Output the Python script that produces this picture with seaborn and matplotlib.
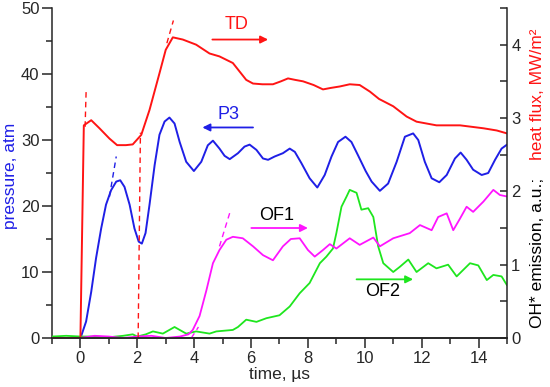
import matplotlib
matplotlib.use('Agg')
import matplotlib.pyplot as plt
import seaborn as sns
from matplotlib.ticker import MultipleLocator

# ----- data ----- #
# heat flux, TD (right axis, MW/m2)
td_time = [-1, -0.5, 0, 0.12, 0.38, 0.67, 1.02, 1.29, 1.6, 1.84, 2.14, 2.43, 2.78, 3.0,
           3.25, 3.6, 4.07, 4.54, 4.89, 5.36, 5.83, 6.07, 6.4, 6.77, 7.05, 7.3, 7.55,
           7.83, 8.2, 8.53, 8.8, 9.12, 9.47, 9.82, 10.18, 10.5, 11.0, 11.47, 11.82,
           12.52, 13.35, 14.17, 14.64, 15]
td_flux = [0, 0, 0, 2.9, 2.97, 2.86, 2.72, 2.63, 2.63, 2.64, 2.77, 3.11, 3.61, 3.93,
           4.10, 4.07, 4.0, 3.88, 3.84, 3.75, 3.52, 3.47, 3.46, 3.46, 3.5, 3.54, 3.52,
           3.50, 3.45, 3.39, 3.41, 3.43, 3.46, 3.45, 3.36, 3.26, 3.16, 3.02, 2.95,
           2.90, 2.90, 2.86, 2.83, 2.79]

# pressure, P3 (left axis, atm)
p3_time = [-1, 0, 0.02, 0.2, 0.38, 0.55, 0.73, 0.9, 1.08, 1.26, 1.4, 1.55, 1.73, 1.9,
           2.05, 2.16, 2.29, 2.43, 2.61, 2.78, 2.96, 3.13, 3.31, 3.49, 3.72, 3.99, 4.25,
           4.48, 4.66, 4.89, 5.07, 5.25, 5.54, 5.77, 5.95, 6.19, 6.42, 6.6, 6.83, 7.12,
           7.36, 7.54, 7.77, 8.06, 8.33, 8.59, 8.83, 9.06, 9.32, 9.53, 9.76, 10.03,
           10.24, 10.53, 10.82, 11.12, 11.41, 11.7, 11.88, 12.11, 12.35, 12.62, 12.88,
           13.17, 13.37, 13.58, 13.81, 14.11, 14.34, 14.58, 14.81, 15]
p3_pres = [0, 0, 0.2, 2.5, 7.0, 12.1, 16.6, 20.2, 22.4, 23.7, 23.9, 22.9, 20.2, 16.6,
           14.6, 14.3, 15.9, 20.2, 26.2, 30.8, 32.8, 33.4, 32.5, 29.7, 26.7, 25.3, 26.7,
           29.2, 29.9, 28.7, 27.6, 27.1, 28.0, 29.0, 29.3, 28.5, 27.2, 27.0, 27.5, 28.0,
           28.7, 28.2, 26.5, 24.2, 22.8, 24.7, 27.5, 29.7, 30.5, 29.7, 27.7, 25.3,
           23.7, 22.3, 23.4, 26.7, 30.5, 31.0, 30.0, 26.7, 24.2, 23.6, 24.7,
           27.2, 28.1, 27.0, 25.5, 24.7, 25.0, 27.0, 28.7, 29.3]

# OH* emission, OF1 (right axis, a.u.)
of1_time = [-1, -0.5, 0, 0.5, 1.0, 1.5, 2.0, 2.5, 3.0, 3.5, 3.8, 3.95, 4.19, 4.43, 4.66,
            4.89, 5.13, 5.36, 5.71, 6.07, 6.42, 6.77, 7.12, 7.4, 7.71, 8.0, 8.24, 8.53,
            8.77, 9.0, 9.47, 9.82, 10.3, 10.53, 11.0, 11.58, 11.94, 12.35, 12.58, 12.88,
            13.11, 13.35, 13.58, 13.81, 14.17, 14.52, 14.75, 15]
of1_oh = [-0.03, -0.03, 0.0, 0.03, 0.02, 0.0, 0.02, 0.03, 0.0, 0.02, 0.05, 0.11, 0.3,
          0.65, 1.02, 1.2, 1.34, 1.38, 1.36, 1.25, 1.13, 1.06, 1.25, 1.35, 1.36, 1.2,
          1.11, 1.2, 1.28, 1.22, 1.36, 1.27, 1.37, 1.25, 1.36, 1.43, 1.54, 1.47, 1.65,
          1.70, 1.47, 1.63, 1.79, 1.72, 1.86, 2.02, 1.95, 1.93]

# OH* emission, OF2 (right axis, a.u.)
of2_time = [-1, -0.5, 0, 0.5, 1.0, 1.5, 1.84, 2.0, 2.3, 2.55, 2.9, 3.31, 3.72, 4.07, 4.54,
            4.78, 5.36, 5.54, 5.83, 6.19, 6.54, 7.0, 7.36, 7.71, 8.06, 8.42, 8.65, 8.88,
            9.0, 9.18, 9.36, 9.47, 9.71, 9.88, 10.12, 10.3, 10.47, 10.65, 11.0, 11.23,
            11.53, 11.82, 12.23, 12.52, 12.93, 13.23, 13.7, 13.99, 14.29, 14.52, 14.81, 15]
of2_oh = [0.02, 0.03, 0.02, 0.02, 0.01, 0.03, 0.05, 0.02, 0.05, 0.09, 0.06, 0.15, 0.06,
          0.09, 0.06, 0.09, 0.11, 0.15, 0.25, 0.22, 0.27, 0.31, 0.43, 0.61, 0.75, 1.02,
          1.11, 1.22, 1.43, 1.79, 1.93, 2.02, 1.98, 1.75, 1.77, 1.65, 1.25, 1.02, 0.90,
          0.97, 1.07, 0.90, 1.02, 0.95, 1.0, 0.84, 1.02, 0.99, 0.79, 0.86, 0.84, 0.72]

# dashed fit lines
td_fit1_time, td_fit1_flux = [0.165, 0.2], [2.88, 3.36]
td_fit2_time, td_fit2_flux = [2.03, 2.11], [0, 2.8]
td_fit3_time, td_fit3_flux = [3.04, 3.27], [4.02, 4.33]
p3_fit_time, p3_fit_pres = [1.02, 1.26], [21.4, 27.5]
of1_fit1_time, of1_fit1_oh = [1.4, 3.9], [-0.02, -0.02]
of1_fit2_time, of1_fit2_oh = [3.9, 4.15], [0.0, 0.15]
of1_fit3_time, of1_fit3_oh = [4.89, 5.27], [1.25, 1.73]

# ----- colours ----- #
RED = '#ff1414'
BLUE = '#1f1fe6'
MAGENTA = '#ff14ff'
GREEN = '#1ee61e'

sns.set_theme(style='ticks')
plt.rcParams['font.family'] = ['Liberation Sans', 'DejaVu Sans']

fig = plt.figure(figsize=(5.5, 3.87), dpi=100)
ax = fig.add_axes([0.0945, 0.1266, 0.8273, 0.8527])
ax2 = ax.twinx()

# ----- pressure on left axis ----- #
sns.lineplot(x=p3_time, y=p3_pres, ax=ax, color=BLUE, lw=1.4)
sns.lineplot(x=p3_fit_time, y=p3_fit_pres, ax=ax, color=BLUE, lw=1, linestyle=(0, (4, 3)))

# ----- heat flux and emission on right axis ----- #
sns.lineplot(x=of2_time, y=of2_oh, ax=ax2, color=GREEN, lw=1.3)
sns.lineplot(x=of1_time, y=of1_oh, ax=ax2, color=MAGENTA, lw=1.3)
sns.lineplot(x=td_time, y=td_flux, ax=ax2, color=RED, lw=1.4)
for tx, ty, c in [(td_fit1_time, td_fit1_flux, RED), (td_fit2_time, td_fit2_flux, RED),
                  (td_fit3_time, td_fit3_flux, RED), (of1_fit1_time, of1_fit1_oh, MAGENTA),
                  (of1_fit2_time, of1_fit2_oh, MAGENTA), (of1_fit3_time, of1_fit3_oh, MAGENTA)]:
    sns.lineplot(x=tx, y=ty, ax=ax2, color=c, lw=1, linestyle=(0, (4, 3)))

# ----- axes ----- #
ax.set_xlim(-1, 15)
ax.set_ylim(0, 50)
ax2.set_ylim(0, 4.5)
ax.xaxis.set_major_locator(MultipleLocator(2))
ax.xaxis.set_minor_locator(MultipleLocator(1))
ax.yaxis.set_major_locator(MultipleLocator(10))
ax.yaxis.set_minor_locator(MultipleLocator(5))
ax2.yaxis.set_major_locator(MultipleLocator(1))
ax2.yaxis.set_minor_locator(MultipleLocator(0.5))

ax.spines['top'].set_visible(False)
ax2.spines['top'].set_visible(False)
ax2.spines['left'].set_visible(False)
ax.spines['right'].set_visible(False)
for s in ['left', 'bottom']:
    ax.spines[s].set_linewidth(1.1)
ax2.spines['right'].set_linewidth(1.1)

ax.tick_params(which='major', direction='out', length=7, width=1.1, labelsize=12, pad=2)
ax.tick_params(which='minor', direction='out', length=4, width=1.1)
ax2.tick_params(which='both', direction='in', length=5, width=1.1, labelsize=12, pad=3)

ax.set_xlabel('time, µs', fontsize=12.5, labelpad=1)
ax.set_ylabel('pressure, atm', fontsize=12.5, color=BLUE)
ax.yaxis.set_label_coords(-0.074, 0.49)
ax2.set_ylabel('')

fig.text(0.977, 1 - 328 / 387, 'OH* emission, a.u.;', rotation=90, fontsize=12.5,
         ha='center', va='bottom', color='black')
fig.text(0.977, 1 - 160 / 387, 'heat flux, MW/m²', rotation=90, fontsize=12.5,
         ha='center', va='bottom', color=RED)

# ----- labels with arrows ----- #
arrow = dict(arrowstyle='-|>', lw=1.3, mutation_scale=11, shrinkA=0, shrinkB=0)
ax2.text(5.5, 4.27, 'TD', color=RED, fontsize=13, ha='center', va='center')
ax2.annotate('', xy=(6.6, 4.07), xytext=(4.64, 4.07), arrowprops=dict(arrow, color=RED))
ax.text(5.2, 33.8, 'P3', color=BLUE, fontsize=13, ha='center', va='center')
ax.annotate('', xy=(4.29, 31.9), xytext=(6.07, 31.9), arrowprops=dict(arrow, color=BLUE))
ax2.text(6.9, 1.67, 'OF1', color='black', fontsize=13, ha='center', va='center')
ax2.annotate('', xy=(8.0, 1.50), xytext=(6.01, 1.50), arrowprops=dict(arrow, color=MAGENTA))
ax2.text(10.63, 0.63, 'OF2', color='black', fontsize=13, ha='center', va='center')
ax2.annotate('', xy=(11.7, 0.80), xytext=(9.71, 0.80), arrowprops=dict(arrow, color=GREEN))

fig.savefig('out.png', dpi=100)
